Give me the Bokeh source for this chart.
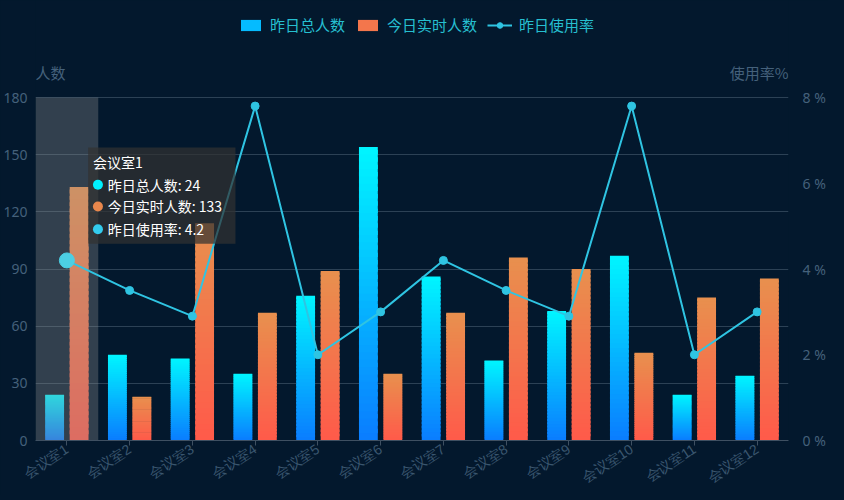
import math
from bokeh.plotting import figure
from bokeh.models import (Range1d, FactorRange, LinearAxis, FixedTicker, PrintfTickFormatter,
                          Legend, LegendItem, Label, ColumnDataSource, GlobalInlineStyleSheet)
from bokeh.transform import dodge
from bokeh.embed import file_html
from bokeh.resources import INLINE
from bokeh.core.properties import value

# ---------------- data ----------------
rooms = ["会议室1", "会议室2", "会议室3", "会议室4", "会议室5", "会议室6",
         "会议室7", "会议室8", "会议室9", "会议室10", "会议室11", "会议室12"]
series_names = ["昨日总人数", "今日实时人数", "昨日使用率"]
yesterday_total = [24, 45, 43, 35, 76, 154, 86, 42, 68, 97, 24, 34]
today_realtime = [133, 23, 114, 67, 89, 35, 67, 96, 90, 46, 75, 85]
usage_rate = [4.2, 3.5, 2.9, 7.8, 2.0, 3.0, 4.2, 3.5, 2.9, 7.8, 2.0, 3.0]
left_axis_name = "人数"
right_axis_name = "使用率%"
left_ticks = [0, 30, 60, 90, 120, 150, 180]
right_ticks = [0, 2, 4, 6, 8]
left_max, right_max = 180, 8
hover_index = 0

# ---------------- style / layout ----------------
BG = "#03182d"
FONT = "Noto Sans CJK SC"
NUMFONT = "Noto Sans"
XFONT = "Liberation Sans"
GRID = "#2c4155"
AXIS_TXT = "#45617b"
XLAB_TXT = "#3a566f"
LEG_TXT = "#26bfd0"
LINE = "#2fc4e2"
BLUE_TOP, BLUE_BOT = "#00f6ff", "#0a7cff"
ORG_TOP, ORG_BOT = "#e8904e", "#ff5a4a"
N_SLICES = 40
FRAME_H = 440          # frame spans from the top of the figure down to the x axis
PLOT_TOP = 97          # pixel row (from the figure top) of the axes' maximum
headroom = FRAME_H / (FRAME_H - PLOT_TOP)


def hex_rgb(h):
    h = h.lstrip("#")
    return tuple(int(h[i:i + 2], 16) for i in (0, 2, 4))


def mix(c_bot, c_top, t):
    a, b = hex_rgb(c_bot), hex_rgb(c_top)
    return "#%02x%02x%02x" % tuple(round(a[k] + (b[k] - a[k]) * t) for k in range(3))


def gradient_source(values, c_bot, c_top):
    cats, bots, tops, cols = [], [], [], []
    for cat, v in zip(rooms, values):
        step = v / N_SLICES
        for i in range(N_SLICES):
            cats.append(cat)
            bots.append(step * i)
            tops.append(step * (i + 1) + (0.6 * step if i < N_SLICES - 1 else 0))
            cols.append(mix(c_bot, c_top, (i + 0.5) / N_SLICES))
    return ColumnDataSource(dict(cat=cats, bottom=bots, top=tops, color=cols))


p = figure(width=828, frame_height=FRAME_H, x_range=FactorRange(factors=rooms),
           y_range=Range1d(0, left_max * headroom),
           output_backend="svg", toolbar_location=None,
           min_border_left=0, min_border_right=0, min_border_top=0, min_border_bottom=0,
           background_fill_color=BG, border_fill_color=BG, outline_line_color=None)
p.stylesheets = [GlobalInlineStyleSheet(css="html, body { background-color: %s; }" % BG)]
p.extra_y_ranges = {"rate": Range1d(0, right_max * headroom)}

# axes
p.yaxis.ticker = FixedTicker(ticks=left_ticks)
p.yaxis.axis_line_color = None
p.yaxis.major_tick_line_color = None
p.yaxis.minor_tick_line_color = None
p.yaxis.major_label_text_color = AXIS_TXT
p.yaxis.major_label_text_font = NUMFONT
p.yaxis.major_label_text_font_size = "14px"
p.yaxis.major_label_standoff = 2

raxis = LinearAxis(y_range_name="rate", ticker=FixedTicker(ticks=right_ticks),
                   formatter=PrintfTickFormatter(format="%d %%"))
raxis.axis_line_color = None
raxis.major_tick_line_color = None
raxis.minor_tick_line_color = None
raxis.major_label_text_color = AXIS_TXT
raxis.major_label_text_font = NUMFONT
raxis.major_label_text_font_size = "14px"
raxis.major_label_standoff = 8
p.add_layout(raxis, "right")

p.xaxis.axis_line_color = "#3f5062"
p.xaxis.major_tick_line_color = "#3f5062"
p.xaxis.major_tick_out = 5
p.xaxis.major_tick_in = 0
p.xaxis.major_label_orientation = math.radians(33)
p.xaxis.major_label_text_color = XLAB_TXT
p.xaxis.major_label_text_font = XFONT
p.xaxis.major_label_text_font_size = "14px"
p.xaxis.major_label_standoff = 2

p.xgrid.grid_line_color = None
p.ygrid.grid_line_color = GRID
p.ygrid.grid_line_width = 1

# gradient bars
src_b = gradient_source(yesterday_total, BLUE_BOT, BLUE_TOP)
src_o = gradient_source(today_realtime, ORG_BOT, ORG_TOP)
r_blue = p.vbar(x=dodge("cat", -0.195, range=p.x_range), bottom="bottom", top="top", width=0.3,
                source=src_b, fill_color="color", line_color=None)
r_org = p.vbar(x=dodge("cat", 0.195, range=p.x_range), bottom="bottom", top="top", width=0.3,
               source=src_o, fill_color="color", line_color=None)

# hover shadow band over the pointed category
p.vbar(x=[rooms[hover_index]], bottom=0, top=[left_max], width=1,
       fill_color="#969696", fill_alpha=0.32, line_color=None)

# usage line
r_line = p.line(x=rooms, y=usage_rate, y_range_name="rate", line_color=LINE, line_width=2)
r_pts = p.scatter(x=rooms, y=usage_rate, y_range_name="rate", size=8,
                  fill_color=LINE, line_color=LINE)
p.scatter(x=[rooms[hover_index]], y=[usage_rate[hover_index]], y_range_name="rate", size=15,
          fill_color="#4ccfe4", line_color="#4ccfe4")

# tooltip (static rendering of the hover box)
p.quad(left=[0.839], right=[3.187], top=[153.7], bottom=[103.2],
       fill_color="#323232", fill_alpha=0.72, line_color=None)
tip_texts = [rooms[hover_index],
             "%s: %d" % (series_names[0], yesterday_total[hover_index]),
             "%s: %d" % (series_names[1], today_realtime[hover_index]),
             "%s: %s" % (series_names[2], usage_rate[hover_index])]
p.scatter(x=[0.995, 0.995, 0.995], y=[134.2, 122.8, 110.9], size=10,
          fill_color=["#00f0ff", "#e8874c", "#33ccee"], line_color=None)
p.text(x=[0.917, 1.15, 1.15, 1.15], y=[146.1, 134.2, 122.8, 110.9], text=tip_texts,
       text_font=value(FONT), text_font_size="14px", text_color="#ffffff",
       text_baseline="middle", text_align="left")

# axis names (inside the frame's headroom)
p.add_layout(Label(x=0.0, y=FRAME_H - 72, y_units="screen", text=left_axis_name,
                   text_font=FONT, text_font_size="15px", text_color=AXIS_TXT,
                   text_align="left", text_baseline="middle"))
p.add_layout(Label(x=12.0, y=FRAME_H - 72, y_units="screen", text=right_axis_name,
                   text_font=FONT, text_font_size="15px", text_color=AXIS_TXT,
                   text_align="right", text_baseline="middle"))

# legend
mid = N_SLICES // 2
legend = Legend(items=[LegendItem(label=series_names[0], renderers=[r_blue], index=mid),
                       LegendItem(label=series_names[1], renderers=[r_org], index=mid),
                       LegendItem(label=series_names[2], renderers=[r_line, r_pts])],
                orientation="horizontal", location=(203, FRAME_H - 35), padding=0, spacing=10,
                glyph_width=25, glyph_height=14, label_standoff=7,
                label_text_font=FONT, label_text_font_size="15px", label_text_color=LEG_TXT,
                background_fill_alpha=0, border_line_alpha=0)
p.add_layout(legend, "center")

open("out.html", "w").write(file_html(p, INLINE))
